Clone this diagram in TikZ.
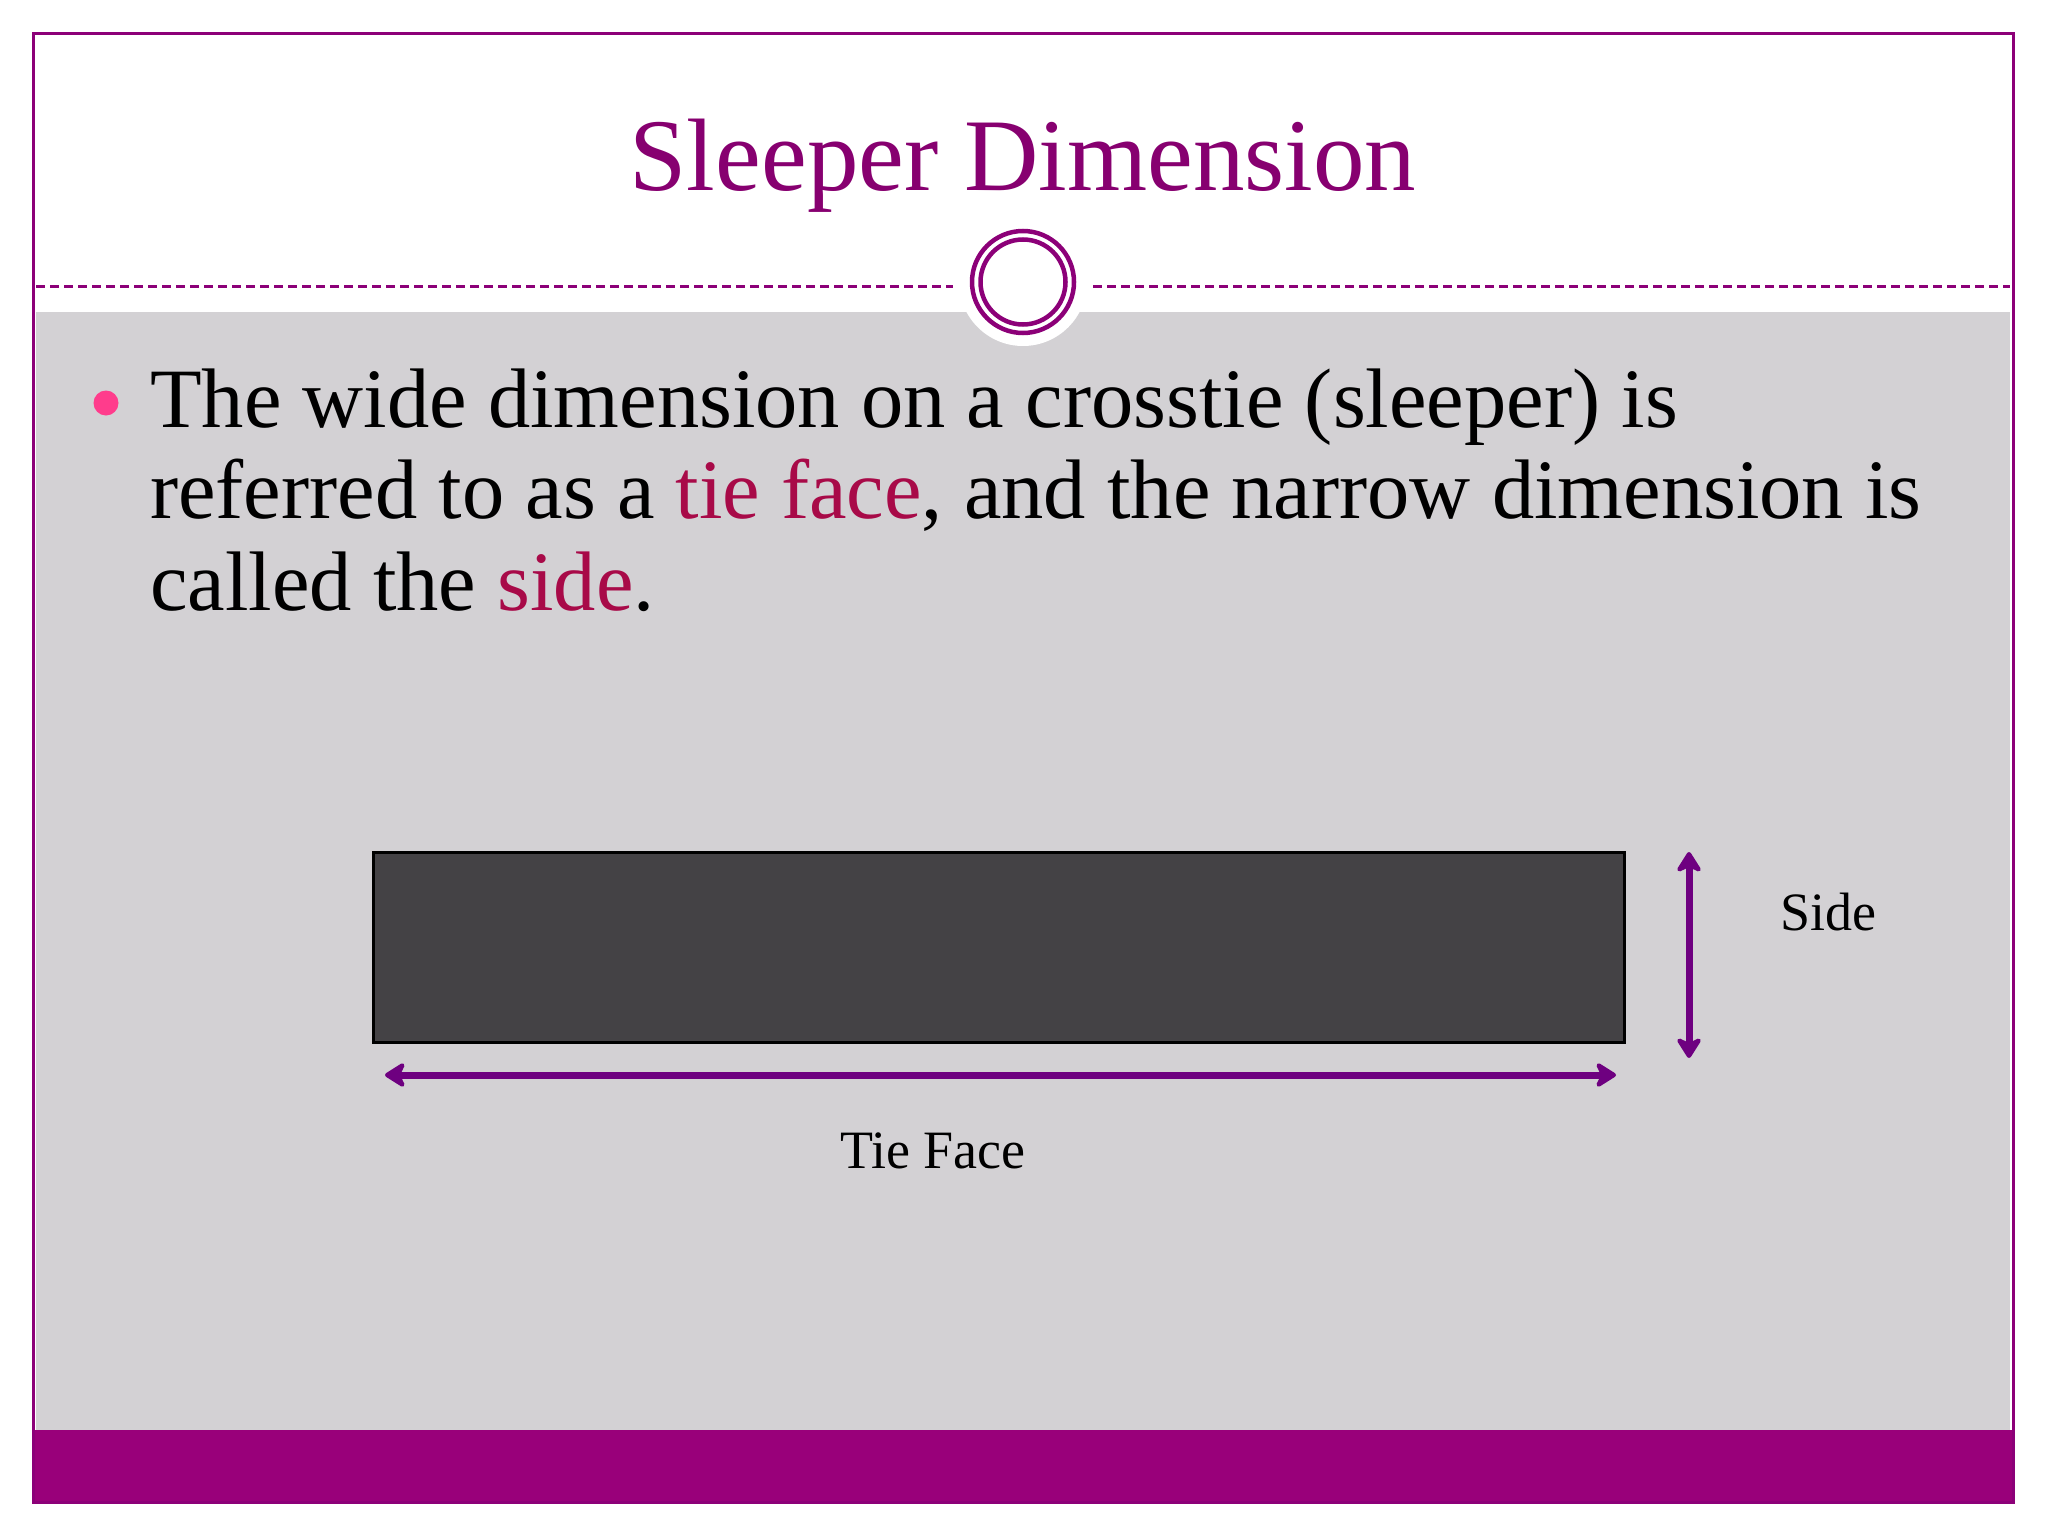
\documentclass[tikz,border=0pt]{standalone}
\usepackage{fontspec}
\setmainfont{Liberation Serif}
\usetikzlibrary{arrows.meta}
\definecolor{framepurple}{RGB}{140,0,120}
\definecolor{barpurple}{RGB}{153,0,122}
\definecolor{titlepurple}{RGB}{135,0,112}
\definecolor{panelgray}{RGB}{211,209,212}
\definecolor{tiefill}{RGB}{68,66,69}
\definecolor{arrowpurple}{RGB}{110,0,128}
\definecolor{accent}{RGB}{168,10,72}
\definecolor{bulletpink}{RGB}{255,60,140}
\tikzset{
  bodytext/.style={anchor=base west, inner sep=0pt, font=\fontsize{84.5}{91}\selectfont},
  labeltext/.style={anchor=base west, inner sep=0pt, font=\fontsize{54}{60}\selectfont},
  dimarrow/.style={draw=arrowpurple, line width=7pt,
    {Stealth[length=24pt,width=30pt,inset=7pt,round]}-{Stealth[length=24pt,width=30pt,inset=7pt,round]}},
  dashline/.style={draw=framepurple, line width=3pt, dash pattern=on 9pt off 5pt},
  ring/.style={draw=framepurple, line width=4.5pt}
}
\begin{document}
\begin{tikzpicture}[x=1pt,y=-1pt]
\useasboundingbox (0,0) rectangle (2048,1536);
\fill[white] (0,0) rectangle (2048,1536);
% gray panel
\fill[panelgray] (36,312) rectangle (2010,1430);
% bottom bar
\fill[barpurple] (33,1430) rectangle (2013,1502);
% outer frame
\draw[framepurple, line width=3pt] (33,34) rectangle (2013,1502);
% dashed rules
\draw[dashline] (36,286) -- (953,286);
\draw[dashline] (1093,286) -- (2010,286);
% circle ornament
\fill[white] (1023,282) circle (64);
\draw[ring] (1023,282) circle (51);
\draw[ring] (1023,282) circle (42.5);
% title
\node[anchor=base, inner sep=0pt, text=titlepurple, font=\fontsize{103}{110}\selectfont] (title) at (1023,190) {Sleeper Dimension};
% bullet
\fill[bulletpink] (106,403) circle (12.5);
% body text
\node[bodytext] (l1) at (150,427) {The wide dimension on a crosstie (sleeper) is};
\node[bodytext] (l2) at (150,518) {referred to as a \textcolor{accent}{tie face}, and the narrow dimension is};
\node[bodytext] (l3) at (150,610) {called the \textcolor{accent}{side}.};
% sleeper
\node[draw=black, line width=3pt, fill=tiefill, minimum width=1251pt, minimum height=190pt, inner sep=0pt, anchor=north west] (sleeper) at (372,851) {};
% dimension arrows
\coordinate (fl) at (385,1075);
\coordinate (fr) at (1616,1075);
\coordinate (st) at (1689,852);
\coordinate (sb) at (1689,1058);
\draw[dimarrow] (fl) -- (fr);
\draw[dimarrow] (st) -- (sb);
% labels
\node[labeltext] (side) at (1780,930) {Side};
\node[labeltext] (face) at (840,1168) {Tie Face};
\end{tikzpicture}
\end{document}
